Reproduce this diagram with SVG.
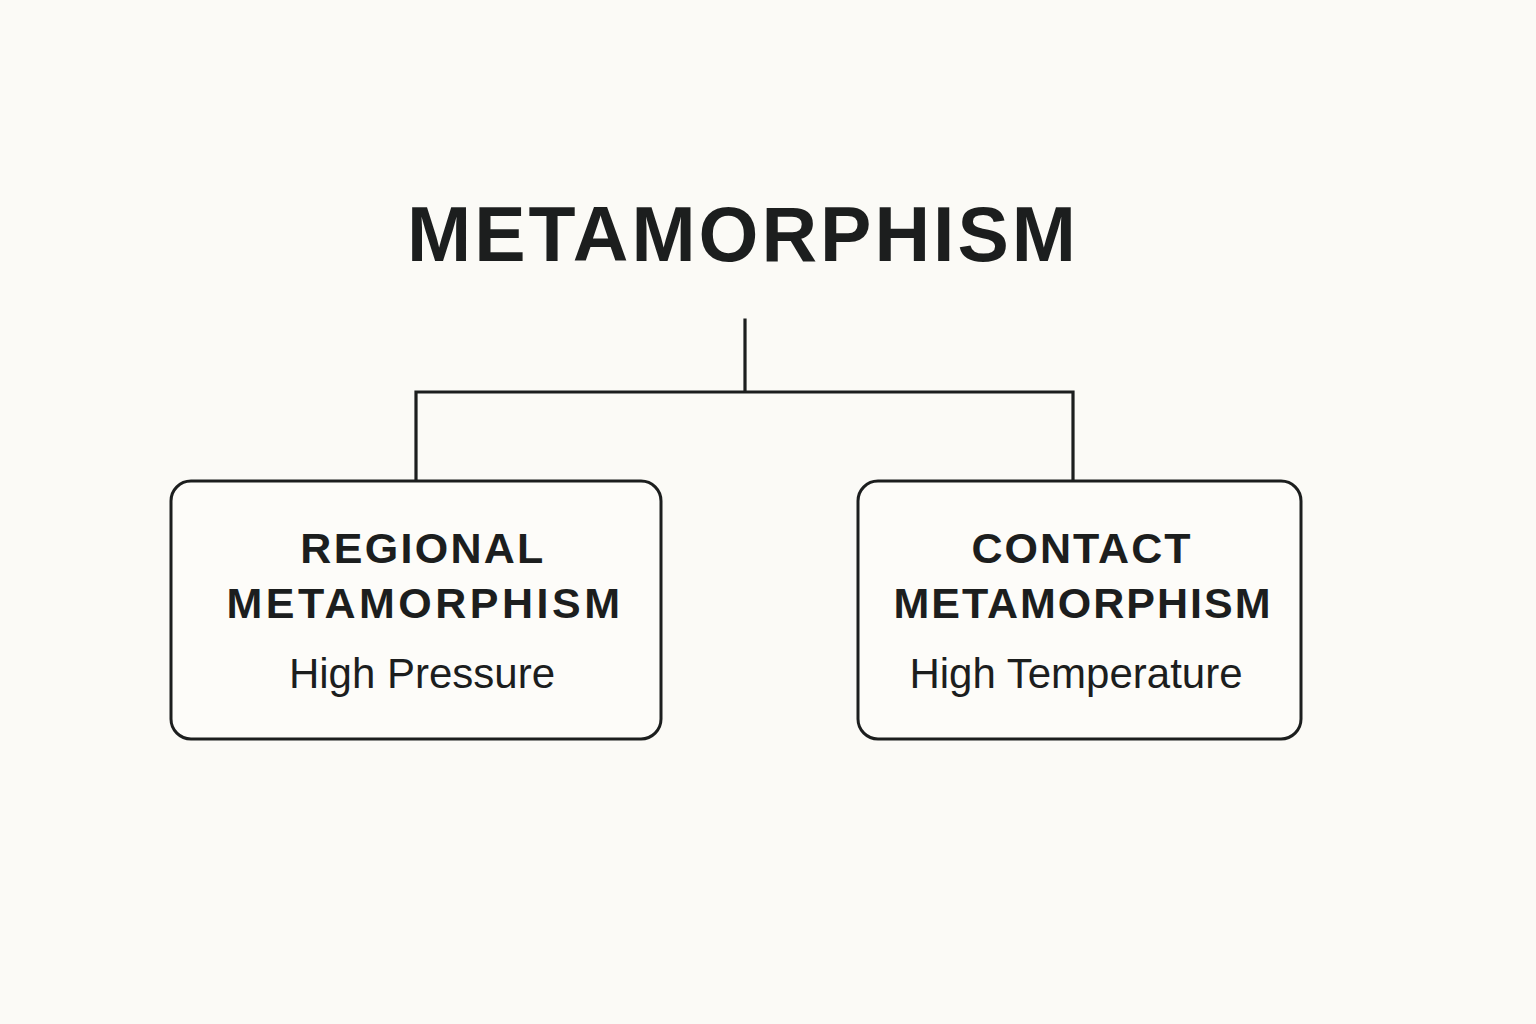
<svg xmlns="http://www.w3.org/2000/svg" width="1536" height="1024" viewBox="0 0 1536 1024">
<style>
.bg{fill:#fbfaf6}
.box{fill:#fdfcf9;stroke:#1c1e1e;stroke-width:3}
.conn{fill:none;stroke:#1c1e1e;stroke-width:3.2;stroke-linecap:square}
.title{font-family:"Liberation Sans",Arial,sans-serif;font-weight:bold;font-size:77px;fill:#1c1e1e;letter-spacing:3px}
.head{font-family:"Liberation Sans",Arial,sans-serif;font-weight:bold;font-size:43px;fill:#1c1e1e}
.sub{font-family:"Liberation Sans",Arial,sans-serif;font-size:42px;fill:#1c1e1e}
</style>
<rect class="bg" x="0" y="0" width="1536" height="1024"/>
<g id="title">
<text class="title" x="743" y="261" text-anchor="middle">METAMORPHISM</text>
</g>
<g id="connectors">
<path class="conn" d="M745 320 V392 M416 392 H1073 M416 392 V481 M1073 392 V481"/>
</g>
<g id="regional">
<rect class="box" x="171" y="481" width="490" height="258" rx="20"/>
<text class="head" x="423" y="563" text-anchor="middle" style="letter-spacing:2.3px">REGIONAL</text>
<text class="head" x="425" y="618" text-anchor="middle" style="letter-spacing:3.5px">METAMORPHISM</text>
<text class="sub" x="422" y="688" text-anchor="middle">High Pressure</text>
</g>
<g id="contact">
<rect class="box" x="858" y="481" width="443" height="258" rx="20"/>
<text class="head" x="1082" y="563" text-anchor="middle" style="letter-spacing:2px">CONTACT</text>
<text class="head" x="1083" y="618" text-anchor="middle" style="letter-spacing:2px">METAMORPHISM</text>
<text class="sub" x="1076" y="688" text-anchor="middle">High Temperature</text>
</g>
</svg>
